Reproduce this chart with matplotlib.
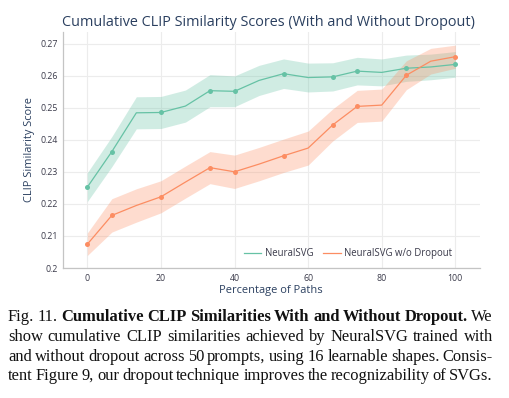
import matplotlib
matplotlib.use("Agg")
import matplotlib.pyplot as plt
from matplotlib.lines import Line2D
import numpy as np

# ---- data ----
pct_paths = [0, 6.67, 13.33, 20, 26.67, 33.33, 40, 46.67, 53.33, 60, 66.67, 73.33, 80, 86.67, 93.33, 100]
neuralsvg = [0.2252, 0.2363, 0.2484, 0.2485, 0.2505, 0.2553, 0.2551, 0.2585, 0.2606, 0.2594,
             0.2596, 0.2614, 0.2610, 0.2623, 0.2627, 0.2635]
neuralsvg_err = [0.0045, 0.0047, 0.0050, 0.0050, 0.0050, 0.0050, 0.0048, 0.0047, 0.0046, 0.0045,
                 0.0044, 0.0043, 0.0042, 0.0041, 0.0040, 0.0040]
no_dropout = [0.2074, 0.2164, 0.2195, 0.2222, 0.2268, 0.2313, 0.2300, 0.2324, 0.2350, 0.2374,
              0.2446, 0.2504, 0.2508, 0.2601, 0.2645, 0.2659]
no_dropout_err = [0.0035, 0.0052, 0.0052, 0.0050, 0.0050, 0.0050, 0.0052, 0.0052, 0.0052, 0.0053,
                  0.0050, 0.0050, 0.0050, 0.0045, 0.0040, 0.0036]
marker_idx = [0, 1, 3, 5, 6, 8, 10, 11, 13, 15]
series_names = ["NeuralSVG", "NeuralSVG w/o Dropout"]
x_ticks = [0, 20, 40, 60, 80, 100]
y_ticks = [0.20, 0.21, 0.22, 0.23, 0.24, 0.25, 0.26, 0.27]
y_ticklabels = ["0.2", "0.21", "0.22", "0.23", "0.24", "0.25", "0.26", "0.27"]

title = "Cumulative CLIP Similarity Scores (With and Without Dropout)"
xlabel = "Percentage of Paths"
ylabel = "CLIP Similarity Score"

caption = [
    [("Fig. 11.", "normal"), ("Cumulative CLIP Similarities With and Without Dropout.", "bold"), ("We", "normal")],
    [("show cumulative CLIP similarities achieved by NeuralSVG trained with", "normal")],
    [("and without dropout across 50 prompts, using 16 learnable shapes. Consis-", "normal")],
    [("tent Figure 9, our dropout technique improves the recognizability of SVGs.", "normal")],
]

GREEN = "#66c2a5"
ORANGE = "#fc8d62"
TXT = "#2a3f5f"

W, H = 510, 398
fig = plt.figure(figsize=(W / 100, H / 100), dpi=100)
fig.patch.set_facecolor("white")

def fx(px):
    return px / W

def fy(py):
    return 1 - py / H

ax = fig.add_axes([fx(63), fy(268), fx(480) - fx(63), fy(32) - fy(268)])
ax.set_xlim(-6.6, 106.7)
ax.set_ylim(0.2, 0.2736)

x = np.array(pct_paths)
for vals, err, col in [(neuralsvg, neuralsvg_err, GREEN), (no_dropout, no_dropout_err, ORANGE)]:
    v = np.array(vals)
    e = np.array(err)
    ax.fill_between(x, v - e, v + e, color=col, alpha=0.3, linewidth=0, zorder=2)
    ax.plot(x, v, color=col, linewidth=0.9, zorder=3, marker="o", markersize=3.6,
            markevery=marker_idx, markeredgewidth=0)

ax.set_xticks(x_ticks)
ax.set_yticks(y_ticks)
ax.set_yticklabels(y_ticklabels)
ax.grid(True, color="#ececec", linewidth=0.8, zorder=0)
ax.set_axisbelow(True)
for s in ["top", "right"]:
    ax.spines[s].set_visible(False)
for s in ["left", "bottom"]:
    ax.spines[s].set_color("#c4c4c4")
    ax.spines[s].set_linewidth(0.9)
ax.tick_params(length=0, labelsize=6.3, labelcolor="#3a3a4a", pad=4)
for lab in ax.get_xticklabels() + ax.get_yticklabels():
    lab.set_family("Open Sans")

fig.text(fx(268), fy(23), title, ha="center", va="center", fontsize=10.4,
         color=TXT, family="Open Sans")
fig.text(fx(271), fy(290), xlabel, ha="center", va="center", fontsize=7.9,
         color=TXT, family="Open Sans")
fig.text(fx(30), fy(150), ylabel, ha="center", va="center", rotation=90, fontsize=7.9,
         color=TXT, family="Open Sans")

handles = [Line2D([], [], color=GREEN, linewidth=0.9), Line2D([], [], color=ORANGE, linewidth=0.9)]
leg = ax.legend(handles, series_names, loc="center right", bbox_to_anchor=(0.955, 0.06),
                ncol=2, frameon=False, prop={"family": "Open Sans", "size": 6.9},
                handlelength=1.8, handletextpad=0.4, columnspacing=1.0)
for t in leg.get_texts():
    t.set_color("#3a3a4a")

# ---- justified caption ----
renderer = fig.canvas.get_renderer()
CAP_FONT = "Liberation Serif"
CAP_SIZE = 11.9
x0, x1 = 8, 493
line_y = [317, 337, 357, 376]
for segs, yy in zip(caption, line_y):
    words = []
    for text, wt in segs:
        for w in text.split(" "):
            if w:
                words.append((w, wt))
    widths = []
    for w, wt in words:
        t = fig.text(0, 0, w, fontsize=CAP_SIZE, fontweight=wt, family=CAP_FONT)
        widths.append(t.get_window_extent(renderer).width)
        t.remove()
    gap = (x1 - x0 - sum(widths)) / max(len(words) - 1, 1)
    cx = x0
    for (w, wt), wd in zip(words, widths):
        fig.text(fx(cx), fy(yy), w, fontsize=CAP_SIZE, fontweight=wt, family=CAP_FONT,
                 ha="left", va="center", color="#111111")
        cx += wd + gap

fig.savefig("out.png", dpi=100, facecolor="white")
